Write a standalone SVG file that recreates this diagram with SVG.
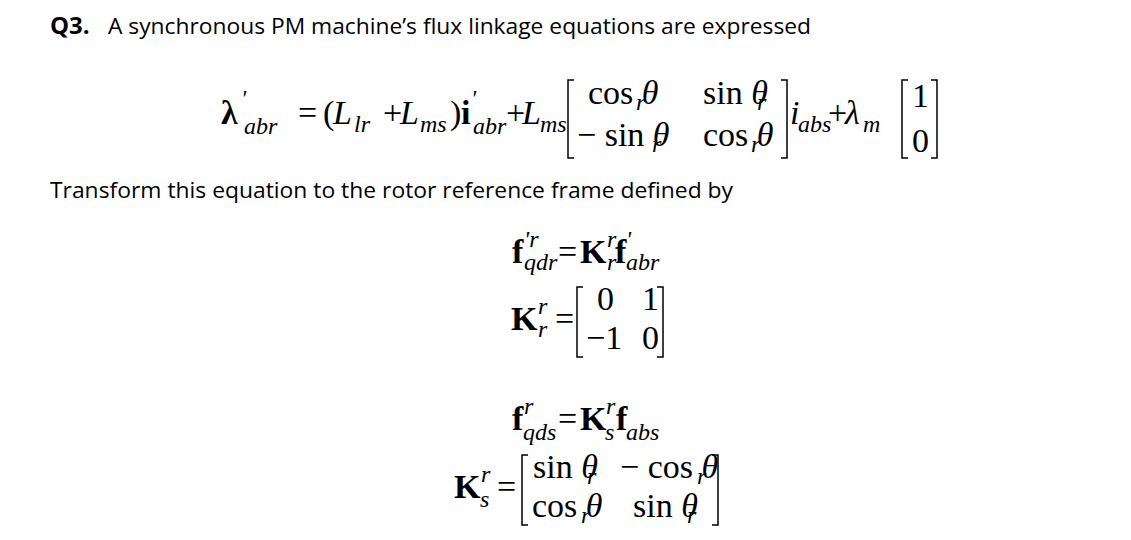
<svg xmlns="http://www.w3.org/2000/svg" width="1131" height="540" viewBox="0 0 1131 540">
<style>
.t{font-family:"Open Sans","Liberation Sans",sans-serif;font-size:21px;fill:#000}
.m{font-family:"Liberation Serif",serif;font-size:34px;fill:#000}
.i{font-style:italic}
.b{font-weight:bold}
.s{font-family:"Liberation Serif",serif;font-size:24px;font-style:italic;fill:#000}
.br{fill:none;stroke:#000;stroke-width:1.5}
</style>
<rect width="1131" height="540" fill="#fff"/>
<text class="t" x="50" y="34"><tspan font-weight="bold" font-size="24">Q3.</tspan></text>
<text class="t" x="108" y="34" textLength="703" lengthAdjust="spacingAndGlyphs">A synchronous PM machine’s flux linkage equations are expressed</text>
<g id="eq1">
<text class="m b" x="221" y="124">λ</text>
<text class="s" x="241" y="106">'</text>
<text class="s" x="244" y="134">abr</text>
<text class="m" x="298" y="124">=</text>
<text class="m" x="323" y="124">(</text>
<text class="m i" x="333" y="124">L</text>
<text class="s" x="354" y="132">lr</text>
<text class="m" x="383" y="124">+</text>
<text class="m i" x="400" y="124">L</text>
<text class="s" x="420" y="132">ms</text>
<text class="m" x="450" y="124">)</text>
<text class="m b" x="461" y="124">i</text>
<text class="s" x="471" y="106">'</text>
<text class="s" x="473" y="134">abr</text>
<text class="m" x="506" y="124">+</text>
<text class="m i" x="522" y="124">L</text>
<text class="s" x="540" y="132">ms</text>
<path class="br" d="M574 80H568V158H574M781 80H787V158H781"/>
<text class="m" x="588" y="104">cos <tspan class="i">θ</tspan></text>
<text class="s" x="636" y="110">r</text>
<text class="m" x="703" y="104">sin <tspan class="i">θ</tspan></text>
<text class="s" x="757" y="110">r</text>
<text class="m" x="577" y="146">− sin <tspan class="i">θ</tspan></text>
<text class="s" x="652" y="152">r</text>
<text class="m" x="703" y="146">cos <tspan class="i">θ</tspan></text>
<text class="s" x="751" y="152">r</text>
<text class="m i" x="790" y="124">i</text>
<text class="s" x="798" y="132">abs</text>
<text class="m" x="828" y="124">+</text>
<text class="m i" x="845" y="124">λ</text>
<text class="s" x="863" y="132">m</text>
<path class="br" d="M908 80H902V158H908M931 80H937V158H931"/>
<text class="m" x="912" y="107">1</text>
<text class="m" x="912" y="152">0</text>
</g>
<text class="t" x="50" y="198" textLength="683" lengthAdjust="spacingAndGlyphs">Transform this equation to the rotor reference frame defined by</text>
<g id="eq2">
<text class="m b" x="512" y="263">f</text>
<text class="s" x="524" y="247">'r</text>
<text class="s" x="524" y="270">qdr</text>
<text class="m" x="558" y="263">=</text>
<text class="m b" x="580" y="263">K</text>
<text class="s" x="607" y="247">r</text>
<text class="s" x="607" y="270">r</text>
<text class="m b" x="615" y="263">f</text>
<text class="s" x="626" y="247">'</text>
<text class="s" x="626" y="270">abr</text>
<text class="m b" x="511" y="330">K</text>
<text class="s" x="538" y="314">r</text>
<text class="s" x="538" y="337">r</text>
<text class="m" x="555" y="330">=</text>
<path class="br" d="M583 287H577V357H583M657 287H663V357H657"/>
<text class="m" x="597" y="310">0</text>
<text class="m" x="642" y="310">1</text>
<text class="m" x="586" y="349">−1</text>
<text class="m" x="642" y="349">0</text>
</g>
<g id="eq3">
<text class="m b" x="512" y="430">f</text>
<text class="s" x="524" y="414">r</text>
<text class="s" x="523" y="440">qds</text>
<text class="m" x="558" y="430">=</text>
<text class="m b" x="580" y="430">K</text>
<text class="s" x="606" y="414">r</text>
<text class="s" x="605" y="440">s</text>
<text class="m b" x="616" y="430">f</text>
<text class="s" x="626" y="440">abs</text>
<text class="m b" x="454" y="498">K</text>
<text class="s" x="481" y="482">r</text>
<text class="s" x="480" y="507">s</text>
<text class="m" x="497" y="498">=</text>
<path class="br" d="M528 455H522V525H528M712 455H718V525H712"/>
<text class="m" x="533" y="478">sin <tspan class="i">θ</tspan></text>
<text class="s" x="587" y="484">r</text>
<text class="m" x="620" y="478">− cos <tspan class="i">θ</tspan></text>
<text class="s" x="697" y="484">r</text>
<text class="m" x="532" y="517">cos <tspan class="i">θ</tspan></text>
<text class="s" x="581" y="523">r</text>
<text class="m" x="633" y="517">sin <tspan class="i">θ</tspan></text>
<text class="s" x="687" y="523">r</text>
</g>
</svg>
